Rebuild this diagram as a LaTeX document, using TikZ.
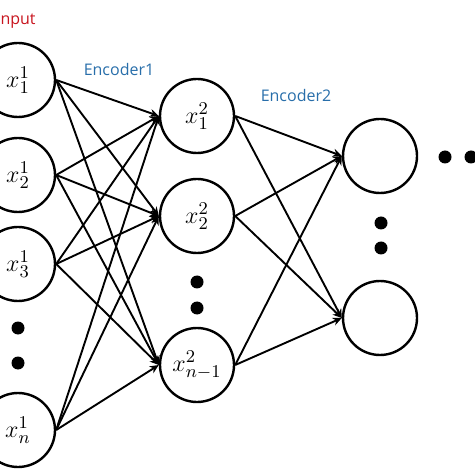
\documentclass[tikz,border=0pt]{standalone}
\usepackage{fontspec}
\usepackage{tikz}
\usetikzlibrary{arrows.meta}
\newfontfamily\lblfont{Open Sans}
\definecolor{inred}{RGB}{200,20,30}
\definecolor{encblue}{RGB}{40,110,170}

\begin{document}
\begin{tikzpicture}[x=0.5pt,y=-0.5pt,>={Stealth[length=4.5pt,width=4pt]},
  neu/.style={draw,circle,line width=1.2pt,minimum size=37pt,inner sep=0pt,font=\fontsize{13}{15}\selectfont},
  dot/.style={circle,fill=black,inner sep=0pt,minimum size=6.5pt},
  ttl/.style={font=\lblfont\fontsize{8}{9}\selectfont,inner sep=0pt},
  cn/.style={->,line width=0.95pt}]
  \useasboundingbox (0,0) rectangle (474,474);
  % layer 1
  \node[neu](x11) at (18,80){$x_1^1$};
  \node[neu](x12) at (18,175){$x_2^1$};
  \node[neu](x13) at (18,264){$x_3^1$};
  \node[neu](x1n) at (18,430){$x_n^1$};
  \node[dot](d11) at (18,328){};
  \node[dot](d12) at (18,363){};
  % layer 2
  \node[neu](x21) at (197,116){$x_1^2$};
  \node[neu](x22) at (197,216){$x_2^2$};
  \node[neu](x2n) at (197,365){$x_{n-1}^2$};
  \node[dot](d21) at (197,282){};
  \node[dot](d22) at (197,308){};
  % layer 3
  \node[neu](y1) at (380,156){};
  \node[neu](y2) at (380,318){};
  \node[dot](d31) at (381,223){};
  \node[dot](d32) at (381,248){};
  \node[dot](d33) at (445,157){};
  \node[dot](d34) at (471,157){};
  % labels
  \node[ttl,text=inred,anchor=east](inp) at (36,21){Input};
  \node[ttl,text=encblue](enc1) at (119,70){Encoder1};
  \node[ttl,text=encblue](enc2) at (296,96){Encoder2};
  % connections
  \foreach \s in {x11,x12,x13,x1n}
    \foreach \t in {x21,x22,x2n}
      \draw[cn](\s.east)--(\t.west);
  \foreach \s in {x21,x22,x2n}
    \foreach \t in {y1,y2}
      \draw[cn](\s.east)--(\t.west);
\end{tikzpicture}
\end{document}
